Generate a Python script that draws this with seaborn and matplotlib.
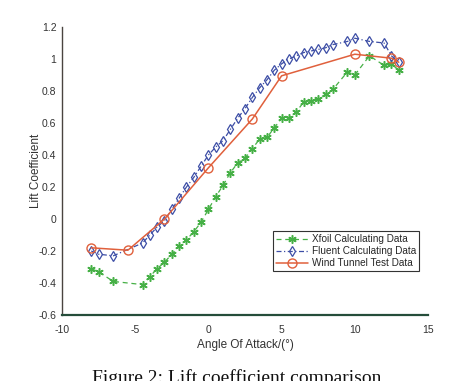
import matplotlib
matplotlib.use("Agg")
import matplotlib.pyplot as plt
import seaborn as sns
import pandas as pd

# ---- data ----
x_xfoil = [-8, -7.5, -6.5, -4.5, -4, -3.5, -3, -2.5, -2, -1.5, -1, -0.5, 0, 0.5, 1, 1.5, 2, 2.5,
           3, 3.5, 4, 4.5, 5, 5.5, 6, 6.5, 7, 7.5, 8, 8.5, 9.5, 10, 11, 12, 12.5, 13]
y_xfoil = [-0.31, -0.33, -0.39, -0.41, -0.36, -0.31, -0.27, -0.22, -0.17, -0.13, -0.08, -0.02,
           0.06, 0.14, 0.21, 0.29, 0.35, 0.38, 0.44, 0.50, 0.51, 0.57,
           0.63, 0.63, 0.67, 0.73, 0.74, 0.75, 0.78, 0.81, 0.92, 0.90, 1.02, 0.96, 0.97, 0.93]

x_fluent = [-8, -7.5, -6.5, -4.5, -4, -3.5, -3, -2.5, -2, -1.5, -1, -0.5, 0, 0.5, 1, 1.5, 2, 2.5,
            3, 3.5, 4, 4.5, 5, 5.5, 6, 6.5, 7, 7.5, 8, 8.5, 9.5, 10, 11, 12, 12.5, 13]
y_fluent = [-0.20, -0.22, -0.23, -0.15, -0.10, -0.05, -0.01, 0.06, 0.13, 0.20, 0.26, 0.33,
            0.40, 0.45, 0.49, 0.56, 0.63, 0.69, 0.76, 0.82, 0.87, 0.93,
            0.97, 1.00, 1.02, 1.04, 1.05, 1.06, 1.07, 1.09, 1.11, 1.13, 1.11, 1.10, 1.02, 0.98]

x_wind = [-8, -5.5, -3, 0, 3, 5, 10, 12.5, 13]
y_wind = [-0.18, -0.195, 0.0, 0.32, 0.625, 0.895, 1.03, 1.005, 0.98]

labels = ["Xfoil Calculating Data", "Fluent Calculating Data", "Wind Tunnel Test Data"]
x_ticks = [-10, -5, 0, 5, 10, 15]
y_ticks = [-0.6, -0.4, -0.2, 0, 0.2, 0.4, 0.6, 0.8, 1, 1.2]
y_tick_labels = ["-0.6", "-0.4", "-0.2", "0", "0.2", "0.4", "0.6", "0.8", "1", "1.2"]
x_label = "Angle Of Attack/(°)"
y_label = "Lift Coefficient"
caption = "Figure 2: Lift coefficient comparison"

# ---- plot ----
sns.set_style("white")
plt.rcParams['font.family'] = ['Liberation Sans', 'DejaVu Sans']

fig = plt.figure(figsize=(4.74, 3.81), dpi=100)
ax = fig.add_axes([0.1308, 0.1732, 0.7722, 0.7559])

green = "#46b046"
blue = "#3d4ea6"
red = "#e0603c"

df_x = pd.DataFrame({"x": x_xfoil, "y": y_xfoil})
df_f = pd.DataFrame({"x": x_fluent, "y": y_fluent})
df_w = pd.DataFrame({"x": x_wind, "y": y_wind})

sns.lineplot(data=df_x, x="x", y="y", ax=ax, color=green, linestyle=(0, (4, 3)),
             linewidth=0.9, marker=(6, 2, 0), markersize=6, markeredgewidth=1.1,
             markeredgecolor=green, label=labels[0], sort=False)
sns.lineplot(data=df_f, x="x", y="y", ax=ax, color=blue, linestyle=(0, (4, 2, 1, 2)),
             linewidth=0.9, marker="d", markersize=5.5, markerfacecolor="none",
             markeredgecolor=blue, markeredgewidth=0.9, label=labels[1], sort=False)
sns.lineplot(data=df_w, x="x", y="y", ax=ax, color=red, linestyle="-",
             linewidth=1.1, marker="o", markersize=6.5, markerfacecolor="none",
             markeredgecolor=red, markeredgewidth=1.0, label=labels[2], sort=False)

ax.set_xlim(-10, 15)
ax.set_ylim(-0.6, 1.2)
ax.set_xticks(x_ticks)
ax.set_xticklabels([str(t) for t in x_ticks])
ax.set_yticks(y_ticks)
ax.set_yticklabels(y_tick_labels)
ax.tick_params(direction="in", length=3, width=0.8, labelsize=7.5, colors="#333333")
ax.tick_params(axis="x", pad=7)
ax.tick_params(axis="y", pad=4)
ax.set_xlabel(x_label, fontsize=8.5, color="#333333", labelpad=3)
ax.set_ylabel(y_label, fontsize=8.5, color="#333333")
ax.yaxis.set_label_coords(-0.055, 0.5)

for s in ["top", "right"]:
    ax.spines[s].set_visible(False)
ax.spines["left"].set_color("#4a4440")
ax.spines["left"].set_linewidth(1.0)
ax.spines["bottom"].set_color("#254d3a")
ax.spines["bottom"].set_linewidth(1.6)

leg = ax.legend(loc="upper right", bbox_to_anchor=(0.975, 0.29), fontsize=7.2,
                frameon=True, fancybox=False, edgecolor="#333333", framealpha=1,
                handlelength=3.2, borderpad=0.3, labelspacing=0.2, handletextpad=0.4,
                borderaxespad=0)
leg.get_frame().set_linewidth(0.8)

fig.text(0.5, 1 - 369 / 381, caption, ha="center", va="top", fontsize=14,
         family=["Liberation Serif", "DejaVu Serif"], color="#111111")

fig.savefig("out.png", dpi=100)
